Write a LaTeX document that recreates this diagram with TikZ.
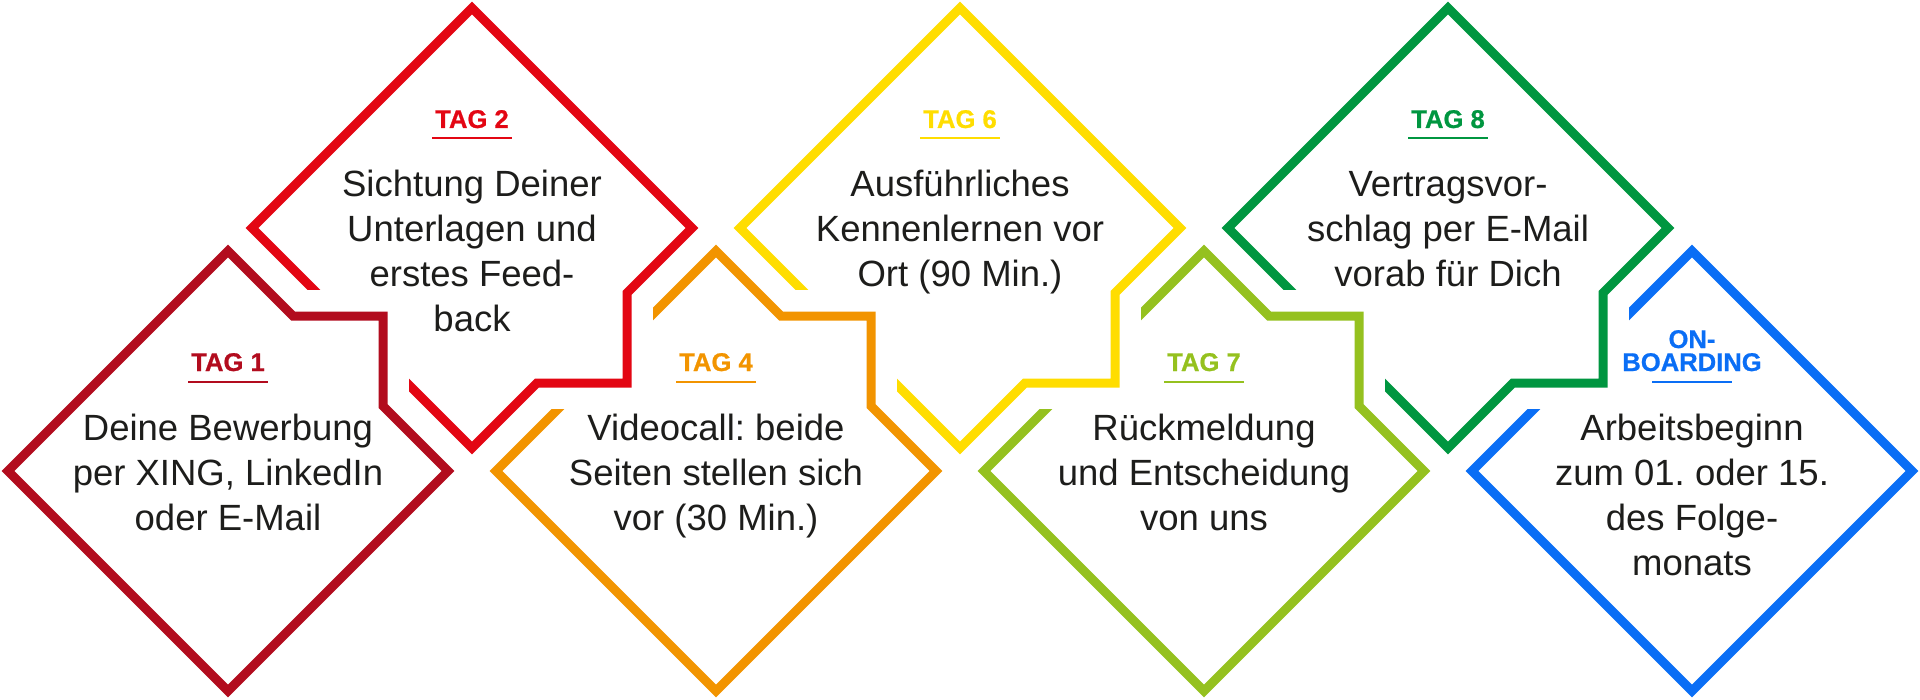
\documentclass[tikz,border=0pt]{standalone}
\usepackage{fontspec}
\setmainfont{Liberation Sans}
\newfontfamily\lblfont[FakeBold=0.8]{Liberation Sans Bold}
\frenchspacing
\definecolor{cA}{HTML}{B20C1E}
\definecolor{cB}{HTML}{E30613}
\definecolor{cC}{HTML}{F29400}
\definecolor{cD}{HTML}{FFDD00}
\definecolor{cE}{HTML}{95C11F}
\definecolor{cF}{HTML}{009640}
\definecolor{cG}{HTML}{0A6EF5}
\definecolor{ink}{HTML}{1D1D1B}
\usetikzlibrary{calc}
\tikzset{
  dialine/.style={line width=4.5pt, line join=miter},
  gapband/.style={draw=white, line width=26pt, line join=miter, line cap=butt},
  maintext/.style={font=\fontsize{18.25pt}{22.5pt}\selectfont\frenchspacing, text=ink, align=center, inner sep=0pt, anchor=base},
  lbl/.style={font=\lblfont\fontsize{12.8pt}{11.5pt}\selectfont, align=center, inner sep=0pt, anchor=base},
  uline/.style={line width=1pt}
}
% lower diamond (centre y=471) with bump on its upper right edge
\newcommand{\lowbump}[2]{\draw[dialine, draw=#2] (#1,251) -- ++(65,65) -- ++(90,0) -- ++(0,90) -- ++(65,65) -- ++(-220,220) -- ++(-220,-220) -- cycle;}
\newcommand{\lowplain}[2]{\draw[dialine, draw=#2] (#1,251) -- ++(220,220) -- ++(-220,220) -- ++(-220,-220) -- cycle;}
\newcommand{\lowband}[1]{\draw[gapband] ($(#1,316)+(65,0)$) -- ++(90,0) -- ++(0,90);}
% upper diamond (centre y=228) with bump on its lower right edge
\newcommand{\upbump}[2]{\draw[dialine, draw=#2] (#1,8) -- ++(220,220) -- ++(-65,65) -- ++(0,90) -- ++(-90,0) -- ++(-65,65) -- ++(-220,-220) -- cycle;}
\newcommand{\upband}[1]{\draw[gapband] ($(#1,293)+(155,0)$) -- ++(0,90) -- ++(-90,0);}
\begin{document}
\begin{tikzpicture}[x=0.5pt,y=-0.5pt]
\useasboundingbox (0,0) rectangle (1920,700);
% diamonds, drawn right to left so that each bump cuts its right neighbour
\lowplain{1692}{cG}
\upband{1448}
\upbump{1448}{cF}
\lowband{1204}
\lowbump{1204}{cE}
\upband{960}
\upbump{960}{cD}
\lowband{716}
\lowbump{716}{cC}
\upband{472}
\upbump{472}{cB}
\lowband{228}
\lowbump{228}{cA}
% labels (anchor = baseline of the last line)
\node[lbl, text=cA] (l1) at (228,371) {TAG 1};
\draw[uline, cA] (188,382) -- (268,382);
\node[lbl, text=cB] (l2) at (472,128) {TAG 2};
\draw[uline, cB] (432,138) -- (512,138);
\node[lbl, text=cC] (l4) at (716,371) {TAG 4};
\draw[uline, cC] (676,382) -- (756,382);
\node[lbl, text=cD] (l6) at (960,128) {TAG 6};
\draw[uline, cD] (920,138) -- (1000,138);
\node[lbl, text=cE] (l7) at (1204,371) {TAG 7};
\draw[uline, cE] (1164,382) -- (1244,382);
\node[lbl, text=cF] (l8) at (1448,128) {TAG 8};
\draw[uline, cF] (1408,138) -- (1488,138);
\node[lbl, text=cG] (lo) at (1692,371) {ON-\\BOARDING};
\draw[uline, cG] (1652,382) -- (1732,382);
% texts (anchor = baseline of the last line)
\node[maintext] (t1) at (228,530) {Deine Bewerbung\\per XING, LinkedIn\\oder E-Mail};
\node[maintext] (t2) at (472,331) {Sichtung Deiner\\Unterlagen und\\erstes Feed-\\back};
\node[maintext] (t4) at (716,530) {Videocall: beide\\Seiten stellen sich\\vor (30 Min.)};
\node[maintext] (t6) at (960,286) {Ausführliches\\Kennenlernen vor\\Ort (90 Min.)};
\node[maintext] (t7) at (1204,530) {Rückmeldung\\und Entscheidung\\von uns};
\node[maintext] (t8) at (1448,286) {Vertragsvor-\\schlag per E-Mail\\vorab für Dich};
\node[maintext] (to) at (1692,575) {Arbeitsbeginn\\zum 01. oder 15.\\des Folge-\\monats};
\end{tikzpicture}
\end{document}
